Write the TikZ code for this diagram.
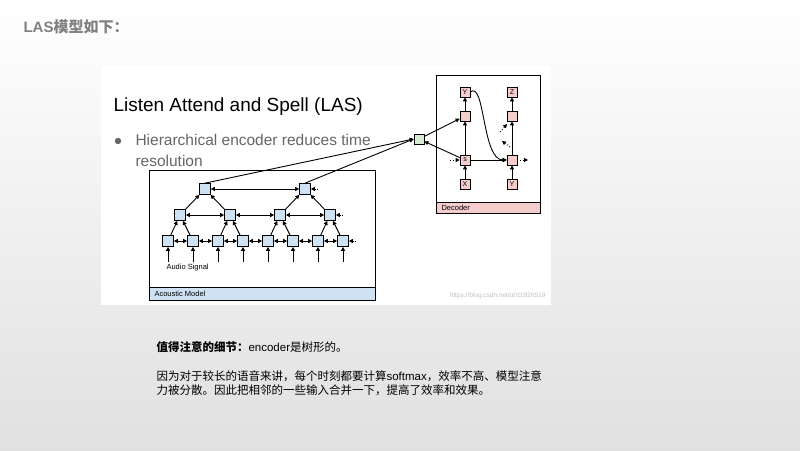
\documentclass[tikz,border=0pt]{standalone}
\usepackage{fontspec}
\setmainfont{Liberation Sans}
\newfontfamily\cjk{Noto Sans CJK SC}
\usetikzlibrary{arrows.meta}
\definecolor{encblue}{HTML}{CFE2F3}
\definecolor{decpink}{HTML}{F4CCCC}
\definecolor{attgreen}{HTML}{D9EAD3}
\begin{document}
\begin{tikzpicture}[x=1pt,y=-1pt,
  enc/.style={draw=black,fill=encblue,minimum size=11pt,inner sep=0pt,line width=0.7pt},
  dec/.style={draw=black,fill=decpink,minimum size=10pt,inner sep=0pt,line width=0.7pt,font=\fontsize{7}{7}\selectfont},
  att/.style={draw=black,fill=attgreen,minimum size=10pt,inner sep=0pt,line width=0.7pt},
  ar/.style={-{Triangle[length=4pt,width=4pt]},line width=0.9pt},
  biar/.style={{Triangle[length=4pt,width=4pt]}-{Triangle[length=4pt,width=4pt]},line width=0.9pt},
  dar/.style={-{Triangle[length=4pt,width=4pt]},line width=0.9pt,dotted}]
\shade[top color=white,bottom color=black!12] (0,0) rectangle (800,450);
\useasboundingbox (0,0) rectangle (800,450);
\node[anchor=west,text=black!50,font=\fontsize{15}{15}\selectfont\bfseries] (hd) at (20,27) {LAS{\cjk 模型如下：}};
\fill[white] (101,66) rectangle (551,305);
\node[anchor=west,font=\fontsize{19}{19}\selectfont] (ti) at (110,107) {Listen Attend and Spell (LAS)};
\fill[black!60] (118,141) circle (3.2);
\node[anchor=north west,text=black!60,align=left,font=\fontsize{15.5}{21}\selectfont] (bt) at (132,131) {Hierarchical encoder reduces time\\resolution};
% acoustic model
\draw[line width=0.9pt,fill=white] (149,170) rectangle (375,300);
\draw[line width=0.9pt,fill=encblue] (149,287) rectangle (375,300);
\node[anchor=west,font=\fontsize{7.5}{7.5}\selectfont] (am) at (151,293.5) {Acoustic Model};
\foreach \i/\x in {1/168,2/193,3/218,4/243,5/268,6/293,7/318,8/343}{
  \node[enc] (b\i) at (\x,241) {};
  \coordinate (in\i) at (\x,262);
  \draw[ar] (in\i) -- (b\i);
}
\node[anchor=west,font=\fontsize{7.5}{7.5}\selectfont] (as) at (163,268) {Audio Signal};
\foreach \i/\x in {1/180,2/230,3/280,4/330}{\node[enc] (m\i) at (\x,215) {};}
\node[enc] (t1) at (205,189) {};
\node[enc] (t2) at (305,189) {};
\foreach \a/\b in {1/2,2/3,3/4,4/5,5/6,6/7,7/8}{\draw[biar] (b\a) -- (b\b);}
\foreach \a/\b in {1/2,2/3,3/4}{\draw[biar] (m\a) -- (m\b);}
\draw[biar] (t1) -- (t2);
\coordinate (be) at (356,241); \draw[ar,dotted] (be) -- (b8);
\coordinate (me) at (343,215); \draw[ar,dotted] (me) -- (m4);
\coordinate (te) at (318,189); \draw[ar,dotted] (te) -- (t2);
\foreach \m/\a/\b in {1/1/2,2/3/4,3/5/6,4/7/8}{\draw[ar] (b\a) -- (m\m); \draw[ar] (b\b) -- (m\m);}
\draw[ar] (m1) -- (t1); \draw[ar] (m2) -- (t1); \draw[ar] (m3) -- (t2); \draw[ar] (m4) -- (t2);
% attention
\node[att] (g) at (419,139) {};
\draw[ar] (t1.north) -- (g.west);
\draw[ar] (t2.north) -- (g.west);
% decoder
\draw[line width=0.9pt,fill=white] (436,75) rectangle (540,213);
\draw[line width=0.9pt,fill=decpink] (436,202) rectangle (540,213);
\node[anchor=west,font=\fontsize{7.5}{7.5}\selectfont] (dl) at (438,207.5) {Decoder};
\node[dec] (y1) at (465,92) {Y};
\node[dec] (h1) at (465,116) {};
\node[dec] (s) at (465,160) {s};
\node[dec] (x) at (465,184) {X};
\node[dec] (z) at (512,92) {Z};
\node[dec] (h2) at (512,116) {};
\node[dec] (s2) at (512,160) {};
\node[dec] (y2) at (512,184) {Y};
\draw[ar] (g) -- (h1);
\draw[ar] (s) -- (g);
\draw[ar] (x) -- (s); \draw[ar] (s) -- (h1); \draw[ar] (h1) -- (y1);
\draw[ar] (s) -- (s2); \draw[ar] (y2) -- (s2); \draw[ar] (s2) -- (h2); \draw[ar] (h2) -- (z);
\draw[ar] (y1.east) .. controls (485,80) and (482,160) .. (s2.west);
\coordinate (sl) at (450,160); \draw[dar] (sl) -- (s);
\coordinate (sr) at (528,160); \draw[dar] (s2) -- (sr);
\coordinate (d1a) at (510,147); \coordinate (d1b) at (502,141); \draw[dar] (d1a) -- (d1b);
\coordinate (d2a) at (500,132); \coordinate (d2b) at (507,124); \draw[dar] (d2a) -- (d2b);
\node[anchor=east,text=black!25,font=\fontsize{6.5}{6.5}\selectfont] (wm) at (549,296) {https://blog.csdn.net/u011926519};
% notes
\node[anchor=west,font=\fontsize{11.5}{11.5}\selectfont] (n1) at (153,347) {{\cjk\bfseries 值得注意的细节：}encoder{\cjk 是树形的。}};
\node[anchor=north west,align=left,font=\fontsize{11.5}{14}\selectfont] (n2) at (153,367) {{\cjk 因为对于较长的语音来讲，每个时刻都要计算}softmax{\cjk ，效率不高、模型注意}\\{\cjk 力被分散。因此把相邻的一些输入合并一下，提高了效率和效果。}};
\end{tikzpicture}
\end{document}
